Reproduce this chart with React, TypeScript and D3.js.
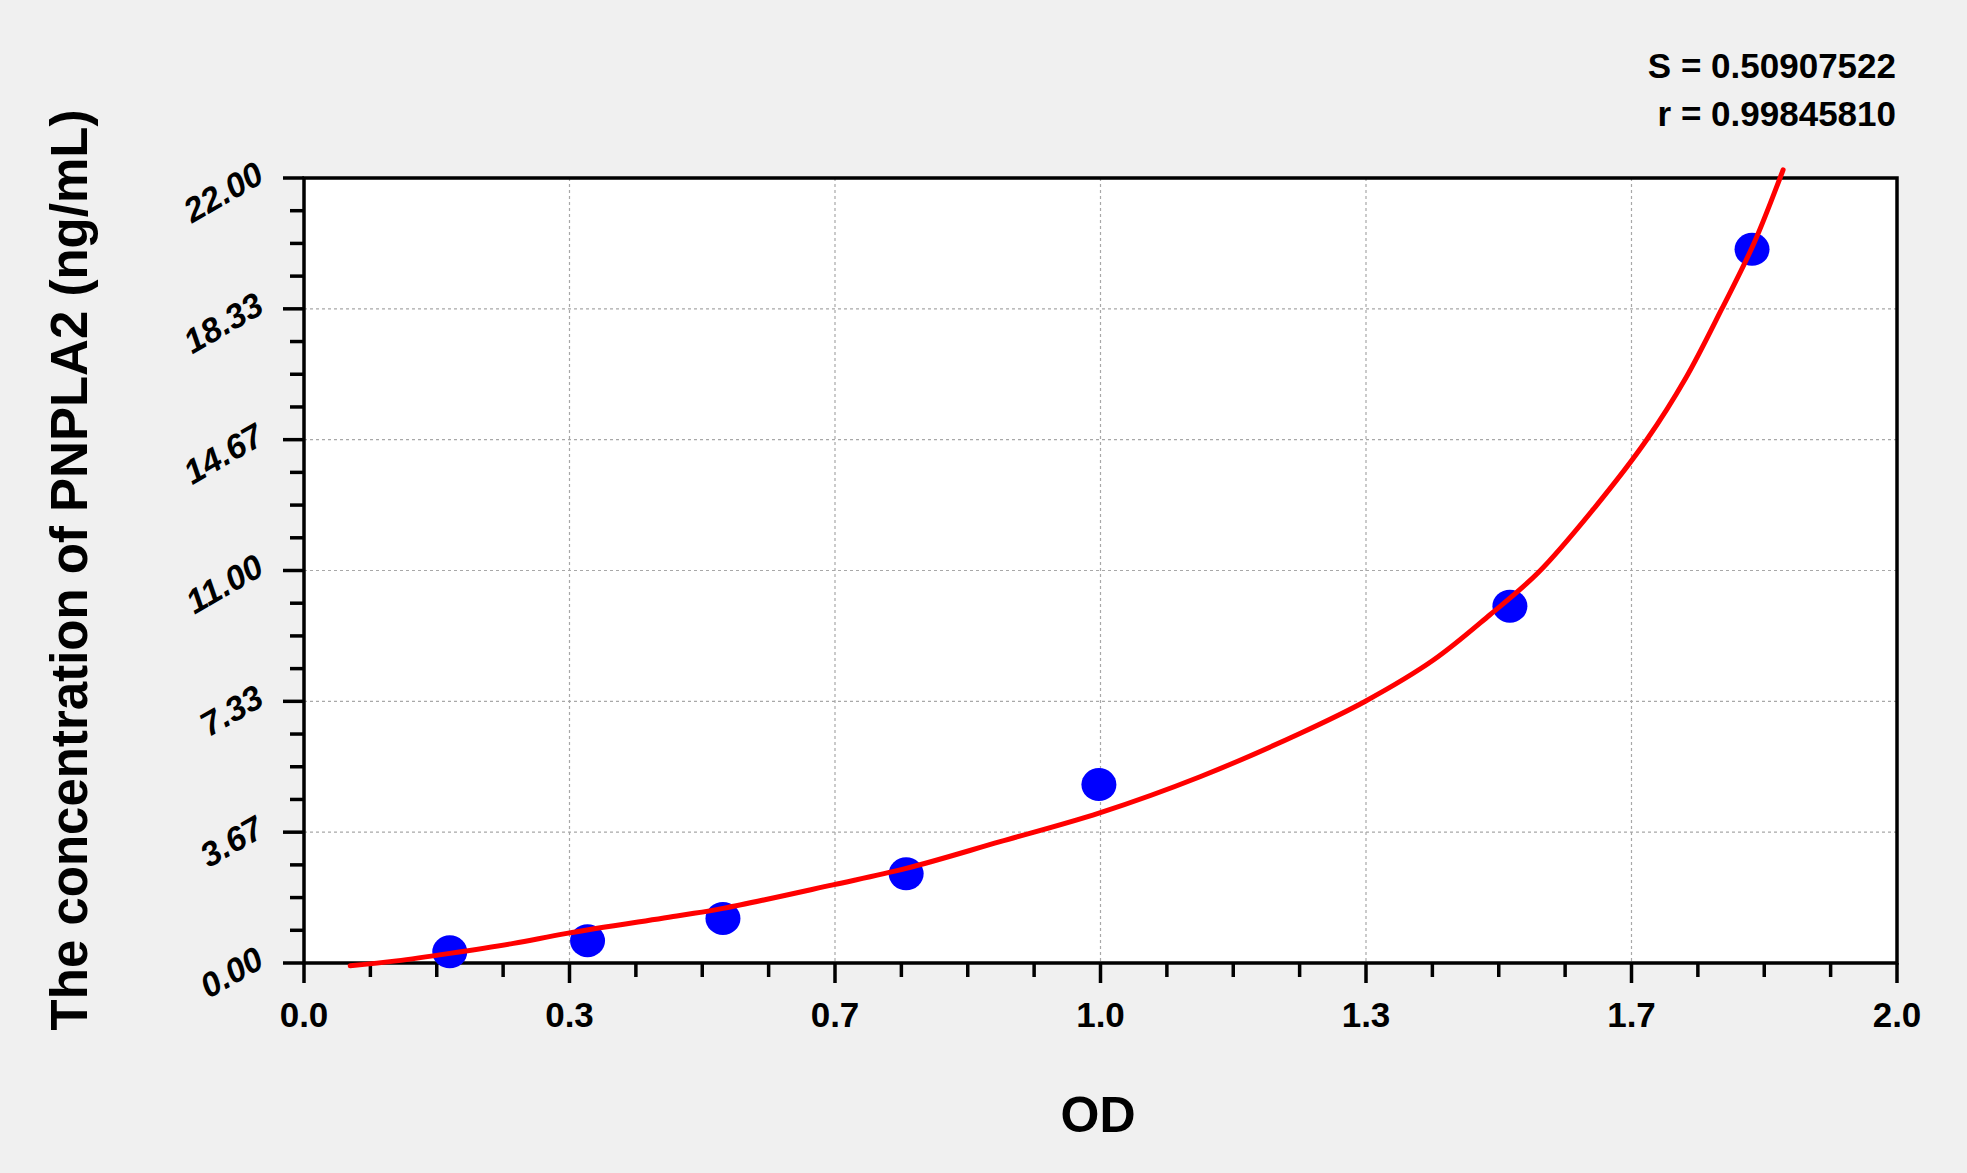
import React, { useEffect } from 'react';
import * as d3 from 'd3';

// standard points (OD vs concentration)
const pointOD = [0.183, 0.356, 0.526, 0.756, 0.998, 1.514, 1.818];
const pointConc = [0.312, 0.625, 1.25, 2.5, 5, 10, 20];

// fitted curve
const curveOD = [0.058, 0.116, 0.183, 0.263, 0.33, 0.472, 0.526, 0.664, 0.756, 0.874, 0.998, 1.125, 1.251, 1.332, 1.418, 1.489, 1.55, 1.62, 1.686, 1.735, 1.78, 1.82, 1.857];
const curveConc = [-0.08, 0.06, 0.27, 0.55, 0.83, 1.33, 1.53, 2.19, 2.65, 3.4, 4.2, 5.22, 6.44, 7.33, 8.49, 9.76, 10.95, 12.75, 14.67, 16.4, 18.33, 20.15, 22.23];

const xTickValues = [0, 1 / 3, 2 / 3, 1, 4 / 3, 5 / 3, 2];
const xTickLabels = ['0.0', '0.3', '0.7', '1.0', '1.3', '1.7', '2.0'];
const yTickValues = [0, 22 / 6, 44 / 6, 11, 88 / 6, 110 / 6, 22];
const yTickLabels = ['0.00', '3.67', '7.33', '11.00', '14.67', '18.33', '22.00'];

const statLines = ['S = 0.50907522', 'r = 0.99845810'];

const W = 1967;
const H = 1173;
const FONT = "'Liberation Sans', Arial, sans-serif";

export default function App() {
  useEffect(() => {
    document.body.style.margin = '0';
    document.body.style.background = '#f0f0f0';
  }, []);

  const x = d3.scaleLinear().domain([0, 2]).range([304, 1897]);
  const y = d3.scaleLinear().domain([0, 22]).range([963, 178]);

  const xMinor = d3.range(0, 25).filter(i => i % 4 !== 0).map(i => i / 12);
  const yMinor = d3.range(0, 25).filter(i => i % 4 !== 0).map(i => (i * 22) / 24);

  const curveData = curveOD.map((d, i) => [d, curveConc[i]] as [number, number]);
  const line = d3.line<[number, number]>()
    .x(d => x(d[0]))
    .y(d => y(d[1]))
    .curve(d3.curveCatmullRom.alpha(0.5));

  const [x0, x1] = x.range();
  const [y0, y1] = y.range();

  return (
    <svg width={W} height={H} style={{ position: 'absolute', left: 0, top: 0, display: 'block' }}>
      <rect x={0} y={0} width={W} height={H} fill="#f0f0f0" />
      <rect x={x0} y={y1} width={x1 - x0} height={y0 - y1} fill="#ffffff" />

      {/* grid */}
      {xTickValues.slice(1, -1).map((v, i) => (
        <line key={'gx' + i} x1={x(v)} x2={x(v)} y1={y1} y2={y0}
          stroke="#a8a8a8" strokeWidth={1.2} strokeDasharray="3,3" />
      ))}
      {yTickValues.slice(1, -1).map((v, i) => (
        <line key={'gy' + i} x1={x0} x2={x1} y1={y(v)} y2={y(v)}
          stroke="#a8a8a8" strokeWidth={1.2} strokeDasharray="3,3" />
      ))}

      {/* frame */}
      <rect x={x0} y={y1} width={x1 - x0} height={y0 - y1} fill="none" stroke="#000" strokeWidth={3.5} />

      {/* x ticks */}
      {xTickValues.map((v, i) => (
        <line key={'xt' + i} x1={x(v)} x2={x(v)} y1={y0} y2={y0 + 20} stroke="#000" strokeWidth={3.5} />
      ))}
      {xMinor.map((v, i) => (
        <line key={'xm' + i} x1={x(v)} x2={x(v)} y1={y0} y2={y0 + 14} stroke="#000" strokeWidth={3.5} />
      ))}
      {xTickValues.map((v, i) => (
        <text key={'xl' + i} x={x(v)} y={1027} textAnchor="middle" fontFamily={FONT}
          fontWeight="bold" fontSize={35} fill="#000">{xTickLabels[i]}</text>
      ))}

      {/* y ticks */}
      {yTickValues.map((v, i) => (
        <line key={'yt' + i} x1={x0 - 21} x2={x0} y1={y(v)} y2={y(v)} stroke="#000" strokeWidth={3.5} />
      ))}
      {yMinor.map((v, i) => (
        <line key={'ym' + i} x1={x0 - 14} x2={x0} y1={y(v)} y2={y(v)} stroke="#000" strokeWidth={3.5} />
      ))}
      {yTickValues.map((v, i) => (
        <text key={'yl' + i} transform={`translate(${x0 - 38},${y(v) + 3}) rotate(-30)`}
          textAnchor="end" fontFamily={FONT} fontWeight="bold" fontStyle="italic"
          fontSize={34} fill="#000">{yTickLabels[i]}</text>
      ))}

      {/* points */}
      {pointOD.map((d, i) => (
        <ellipse key={'p' + i} cx={x(d)} cy={y(pointConc[i])} rx={17.5} ry={16.5} fill="#0000ff" />
      ))}

      {/* fitted curve */}
      <path d={line(curveData) || ''} fill="none" stroke="#ff0000" strokeWidth={5} strokeLinecap="round" />

      {/* axis titles */}
      <text x={1098} y={1132} textAnchor="middle" fontFamily={FONT} fontWeight="bold" fontSize={50} fill="#000">OD</text>
      <text transform="translate(87,570) rotate(-90)" textAnchor="middle" fontFamily={FONT}
        fontWeight="bold" fontSize={51} fill="#000">The concentration of PNPLA2 (ng/mL)</text>

      {/* fit statistics */}
      {statLines.map((s, i) => (
        <text key={'s' + i} x={1896} y={78 + i * 48} textAnchor="end" fontFamily={FONT}
          fontWeight="bold" fontSize={35} fill="#000">{s}</text>
      ))}
    </svg>
  );
}
